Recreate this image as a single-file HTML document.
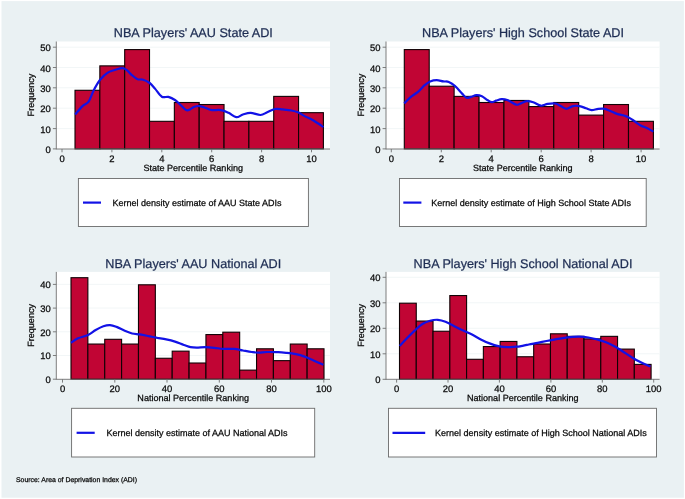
<!DOCTYPE html>
<html><head><meta charset="utf-8"><title>NBA Players ADI</title>
<style>html,body{margin:0;padding:0;background:#fff}svg{display:block;filter:blur(0.3px)}</style></head>
<body>
<svg width="685" height="499" viewBox="0 0 685 499" font-family="'Liberation Sans', Arial, Helvetica, sans-serif" text-rendering="geometricPrecision">
<rect width="685" height="499" fill="#fff"/>
<rect x="1.5" y="1.1" width="682.4" height="496.6" fill="#eaf1f3"/>
<g>
<rect x="56.3" y="41.5" width="273.7" height="107.5" fill="#fff"/>
<line x1="56.3" x2="330.0" y1="128.6" y2="128.6" stroke="#f0f5f6" stroke-width="0.9"/>
<line x1="56.3" x2="330.0" y1="108.2" y2="108.2" stroke="#f0f5f6" stroke-width="0.9"/>
<line x1="56.3" x2="330.0" y1="87.8" y2="87.8" stroke="#f0f5f6" stroke-width="0.9"/>
<line x1="56.3" x2="330.0" y1="67.5" y2="67.5" stroke="#f0f5f6" stroke-width="0.9"/>
<line x1="56.3" x2="330.0" y1="47.2" y2="47.2" stroke="#f0f5f6" stroke-width="0.9"/>
<rect x="75.00" y="90.29" width="24.84" height="58.62" fill="#c10534" stroke="#100205" stroke-width="1.1"/>
<rect x="99.84" y="65.87" width="24.84" height="83.03" fill="#c10534" stroke="#100205" stroke-width="1.1"/>
<rect x="124.68" y="49.59" width="24.84" height="99.31" fill="#c10534" stroke="#100205" stroke-width="1.1"/>
<rect x="149.52" y="121.32" width="24.84" height="27.58" fill="#c10534" stroke="#100205" stroke-width="1.1"/>
<rect x="174.36" y="102.50" width="24.84" height="46.41" fill="#c10534" stroke="#100205" stroke-width="1.1"/>
<rect x="199.20" y="104.53" width="24.84" height="44.37" fill="#c10534" stroke="#100205" stroke-width="1.1"/>
<rect x="224.04" y="121.32" width="24.84" height="27.58" fill="#c10534" stroke="#100205" stroke-width="1.1"/>
<rect x="248.88" y="121.32" width="24.84" height="27.58" fill="#c10534" stroke="#100205" stroke-width="1.1"/>
<rect x="273.72" y="96.39" width="24.84" height="52.51" fill="#c10534" stroke="#100205" stroke-width="1.1"/>
<rect x="298.56" y="112.67" width="24.84" height="36.23" fill="#c10534" stroke="#100205" stroke-width="1.1"/>
<path d="M75.2,114.5 C76.4,113.1 80.3,108.2 82.5,106.1 C84.7,104.0 86.8,104.3 88.6,101.7 C90.4,99.1 91.6,94.4 93.5,90.7 C95.4,87.0 97.7,82.7 100.1,79.7 C102.5,76.7 105.2,74.2 107.8,72.6 C110.4,70.9 113.1,70.5 115.5,69.8 C117.9,69.1 120.3,68.2 122.1,68.2 C123.9,68.2 124.8,68.6 126.5,69.8 C128.2,71.0 130.2,73.7 132.1,75.3 C133.9,76.9 135.8,78.5 137.6,79.2 C139.4,79.9 141.1,79.1 143.1,79.7 C145.1,80.3 147.7,81.5 149.7,83.0 C151.7,84.5 153.2,86.6 155.2,88.9 C157.2,91.2 159.6,95.4 161.8,96.7 C164.0,98.0 166.2,96.4 168.4,96.9 C170.6,97.5 173.0,98.7 175.0,100.0 C177.0,101.3 178.8,103.3 180.6,105.0 C182.4,106.7 184.5,109.4 186.1,110.1 C187.7,110.8 188.6,110.0 190.0,109.4 C191.4,108.9 192.8,107.3 194.4,106.8 C196.1,106.2 197.9,105.8 199.9,106.1 C201.9,106.3 204.5,107.6 206.5,108.3 C208.5,109.0 209.6,109.8 212.0,110.1 C214.4,110.4 218.1,109.6 220.9,110.1 C223.7,110.5 226.0,111.6 228.6,112.8 C231.2,114.0 233.9,116.9 236.3,117.2 C238.7,117.5 240.5,115.2 242.9,114.5 C245.3,113.8 247.7,112.7 250.6,112.8 C253.5,112.9 257.7,115.1 260.5,115.0 C263.3,114.9 264.8,113.3 267.2,112.3 C269.6,111.3 272.3,109.5 274.9,109.0 C277.5,108.5 279.9,109.2 282.6,109.4 C285.4,109.7 288.8,110.0 291.4,110.5 C294.0,111.0 295.8,111.4 298.0,112.3 C300.2,113.2 302.0,114.7 304.6,116.1 C307.2,117.5 310.4,118.7 313.5,120.5 C316.6,122.3 321.8,126.0 323.4,127.1" fill="none" stroke="#1212e6" stroke-width="2.2" stroke-linejoin="round" stroke-linecap="butt"/>
<line x1="56.3" x2="56.3" y1="41.5" y2="149.4" stroke="#707070" stroke-width="0.9"/>
<line x1="56.3" x2="330.0" y1="149.0" y2="149.0" stroke="#707070" stroke-width="0.9"/>
<line x1="52.9" x2="56.3" y1="148.9" y2="148.9" stroke="#707070" stroke-width="0.9"/>
<text x="50.8" y="152.8" font-size="9.45" text-anchor="end" fill="#080808" stroke="#080808" stroke-width="0.25">0</text>
<line x1="52.9" x2="56.3" y1="128.6" y2="128.6" stroke="#707070" stroke-width="0.9"/>
<text x="50.8" y="132.5" font-size="9.45" text-anchor="end" fill="#080808" stroke="#080808" stroke-width="0.25">10</text>
<line x1="52.9" x2="56.3" y1="108.2" y2="108.2" stroke="#707070" stroke-width="0.9"/>
<text x="50.8" y="112.2" font-size="9.45" text-anchor="end" fill="#080808" stroke="#080808" stroke-width="0.25">20</text>
<line x1="52.9" x2="56.3" y1="87.8" y2="87.8" stroke="#707070" stroke-width="0.9"/>
<text x="50.8" y="91.8" font-size="9.45" text-anchor="end" fill="#080808" stroke="#080808" stroke-width="0.25">30</text>
<line x1="52.9" x2="56.3" y1="67.5" y2="67.5" stroke="#707070" stroke-width="0.9"/>
<text x="50.8" y="71.5" font-size="9.45" text-anchor="end" fill="#080808" stroke="#080808" stroke-width="0.25">40</text>
<line x1="52.9" x2="56.3" y1="47.2" y2="47.2" stroke="#707070" stroke-width="0.9"/>
<text x="50.8" y="51.1" font-size="9.45" text-anchor="end" fill="#080808" stroke="#080808" stroke-width="0.25">50</text>
<line x1="62.0" x2="62.0" y1="149.0" y2="152.3" stroke="#707070" stroke-width="0.9"/>
<text x="62.0" y="161.6" font-size="9.45" text-anchor="middle" fill="#080808" stroke="#080808" stroke-width="0.25">0</text>
<line x1="111.9" x2="111.9" y1="149.0" y2="152.3" stroke="#707070" stroke-width="0.9"/>
<text x="111.9" y="161.6" font-size="9.45" text-anchor="middle" fill="#080808" stroke="#080808" stroke-width="0.25">2</text>
<line x1="161.8" x2="161.8" y1="149.0" y2="152.3" stroke="#707070" stroke-width="0.9"/>
<text x="161.8" y="161.6" font-size="9.45" text-anchor="middle" fill="#080808" stroke="#080808" stroke-width="0.25">4</text>
<line x1="211.7" x2="211.7" y1="149.0" y2="152.3" stroke="#707070" stroke-width="0.9"/>
<text x="211.7" y="161.6" font-size="9.45" text-anchor="middle" fill="#080808" stroke="#080808" stroke-width="0.25">6</text>
<line x1="261.6" x2="261.6" y1="149.0" y2="152.3" stroke="#707070" stroke-width="0.9"/>
<text x="261.6" y="161.6" font-size="9.45" text-anchor="middle" fill="#080808" stroke="#080808" stroke-width="0.25">8</text>
<line x1="311.5" x2="311.5" y1="149.0" y2="152.3" stroke="#707070" stroke-width="0.9"/>
<text x="311.5" y="161.6" font-size="9.45" text-anchor="middle" fill="#080808" stroke="#080808" stroke-width="0.25">10</text>
<text x="193.2" y="171.0" font-size="9.05" text-anchor="middle" fill="#080808" stroke="#080808" stroke-width="0.25">State Percentile Ranking</text>
<text x="193.3" y="37.3" font-size="12.65" text-anchor="middle" fill="#1e2d53" stroke="#1e2d53" stroke-width="0.25">NBA Players&#39; AAU State ADI</text>
<text transform="translate(34.3,95.0) rotate(-90)" font-size="9.05" text-anchor="middle" fill="#080808" stroke="#080808" stroke-width="0.25">Frequency</text>
<rect x="78.4" y="178.5" width="230.0" height="48.0" fill="#fff" stroke="#6a6a6a" stroke-width="0.9"/>
<line x1="83.0" x2="101.0" y1="202.6" y2="202.6" stroke="#1212e6" stroke-width="2.2"/>
<text x="112.4" y="206.1" font-size="9.0" fill="#080808" stroke="#080808" stroke-width="0.25">Kernel density estimate of AAU State ADIs</text>
</g>
<g>
<rect x="386.0" y="41.5" width="273.6" height="107.5" fill="#fff"/>
<line x1="386.0" x2="659.6" y1="128.6" y2="128.6" stroke="#f0f5f6" stroke-width="0.9"/>
<line x1="386.0" x2="659.6" y1="108.2" y2="108.2" stroke="#f0f5f6" stroke-width="0.9"/>
<line x1="386.0" x2="659.6" y1="87.8" y2="87.8" stroke="#f0f5f6" stroke-width="0.9"/>
<line x1="386.0" x2="659.6" y1="67.5" y2="67.5" stroke="#f0f5f6" stroke-width="0.9"/>
<line x1="386.0" x2="659.6" y1="47.2" y2="47.2" stroke="#f0f5f6" stroke-width="0.9"/>
<rect x="404.30" y="49.59" width="24.91" height="99.31" fill="#c10534" stroke="#100205" stroke-width="1.1"/>
<rect x="429.21" y="86.22" width="24.91" height="62.69" fill="#c10534" stroke="#100205" stroke-width="1.1"/>
<rect x="454.12" y="96.39" width="24.91" height="52.51" fill="#c10534" stroke="#100205" stroke-width="1.1"/>
<rect x="479.03" y="102.50" width="24.91" height="46.41" fill="#c10534" stroke="#100205" stroke-width="1.1"/>
<rect x="503.94" y="100.46" width="24.91" height="48.44" fill="#c10534" stroke="#100205" stroke-width="1.1"/>
<rect x="528.85" y="106.57" width="24.91" height="42.34" fill="#c10534" stroke="#100205" stroke-width="1.1"/>
<rect x="553.76" y="102.50" width="24.91" height="46.41" fill="#c10534" stroke="#100205" stroke-width="1.1"/>
<rect x="578.67" y="115.11" width="24.91" height="33.79" fill="#c10534" stroke="#100205" stroke-width="1.1"/>
<rect x="603.58" y="104.53" width="24.91" height="44.37" fill="#c10534" stroke="#100205" stroke-width="1.1"/>
<rect x="628.49" y="121.32" width="24.91" height="27.58" fill="#c10534" stroke="#100205" stroke-width="1.1"/>
<path d="M404.3,103.5 C405.3,102.5 408.0,99.2 410.3,97.3 C412.6,95.3 415.6,93.8 418.0,91.8 C420.4,89.8 422.6,86.9 424.6,85.2 C426.6,83.5 428.1,82.2 430.1,81.4 C432.1,80.6 434.5,80.1 436.7,80.1 C438.9,80.1 441.3,81.1 443.3,81.4 C445.3,81.7 446.8,81.1 448.8,81.9 C450.8,82.7 453.2,84.3 455.4,86.3 C457.6,88.2 460.2,91.7 462.1,93.6 C464.0,95.5 465.0,97.2 466.5,97.8 C468.0,98.3 469.2,97.4 470.9,96.9 C472.5,96.5 474.6,95.2 476.4,95.1 C478.2,95.0 480.1,95.4 481.9,96.2 C483.7,97.0 485.8,99.0 487.4,100.0 C489.0,101.0 490.3,102.1 491.8,102.2 C493.3,102.3 494.6,101.1 496.2,100.6 C497.8,100.1 499.8,99.2 501.7,99.1 C503.6,99.0 504.9,99.1 507.3,100.0 C509.7,100.9 514.0,104.0 516.1,104.6 C518.2,105.2 518.2,104.3 520.0,103.7 C521.8,103.1 524.4,101.3 526.6,101.1 C528.8,100.8 530.8,101.4 533.2,102.2 C535.6,103.0 538.5,105.4 540.9,105.7 C543.3,106.0 545.2,104.3 547.6,103.9 C550.0,103.5 553.1,103.1 555.3,103.5 C557.5,103.9 559.0,105.2 560.8,106.1 C562.6,107.0 564.3,108.8 566.3,108.8 C568.3,108.8 570.7,106.5 572.9,106.1 C575.1,105.6 577.3,105.7 579.5,106.1 C581.7,106.5 584.1,107.6 586.1,108.3 C588.1,109.0 589.6,110.0 591.6,110.1 C593.6,110.2 596.1,109.0 598.3,108.8 C600.5,108.6 602.9,108.4 604.9,108.8 C606.9,109.2 608.4,110.2 610.4,111.0 C612.4,111.8 614.4,113.1 617.0,113.9 C619.6,114.8 623.2,115.1 625.8,116.1 C628.4,117.1 630.0,118.3 632.4,119.8 C634.8,121.3 637.8,123.9 640.2,125.3 C642.6,126.7 644.6,127.0 646.8,128.0 C649.0,129.1 652.3,131.0 653.4,131.6" fill="none" stroke="#1212e6" stroke-width="2.2" stroke-linejoin="round" stroke-linecap="butt"/>
<line x1="386.0" x2="386.0" y1="41.5" y2="149.4" stroke="#707070" stroke-width="0.9"/>
<line x1="386.0" x2="659.6" y1="149.0" y2="149.0" stroke="#707070" stroke-width="0.9"/>
<line x1="382.6" x2="386.0" y1="148.9" y2="148.9" stroke="#707070" stroke-width="0.9"/>
<text x="380.5" y="152.8" font-size="9.45" text-anchor="end" fill="#080808" stroke="#080808" stroke-width="0.25">0</text>
<line x1="382.6" x2="386.0" y1="128.6" y2="128.6" stroke="#707070" stroke-width="0.9"/>
<text x="380.5" y="132.5" font-size="9.45" text-anchor="end" fill="#080808" stroke="#080808" stroke-width="0.25">10</text>
<line x1="382.6" x2="386.0" y1="108.2" y2="108.2" stroke="#707070" stroke-width="0.9"/>
<text x="380.5" y="112.2" font-size="9.45" text-anchor="end" fill="#080808" stroke="#080808" stroke-width="0.25">20</text>
<line x1="382.6" x2="386.0" y1="87.8" y2="87.8" stroke="#707070" stroke-width="0.9"/>
<text x="380.5" y="91.8" font-size="9.45" text-anchor="end" fill="#080808" stroke="#080808" stroke-width="0.25">30</text>
<line x1="382.6" x2="386.0" y1="67.5" y2="67.5" stroke="#707070" stroke-width="0.9"/>
<text x="380.5" y="71.5" font-size="9.45" text-anchor="end" fill="#080808" stroke="#080808" stroke-width="0.25">40</text>
<line x1="382.6" x2="386.0" y1="47.2" y2="47.2" stroke="#707070" stroke-width="0.9"/>
<text x="380.5" y="51.1" font-size="9.45" text-anchor="end" fill="#080808" stroke="#080808" stroke-width="0.25">50</text>
<line x1="391.3" x2="391.3" y1="149.0" y2="152.3" stroke="#707070" stroke-width="0.9"/>
<text x="391.3" y="161.6" font-size="9.45" text-anchor="middle" fill="#080808" stroke="#080808" stroke-width="0.25">0</text>
<line x1="441.3" x2="441.3" y1="149.0" y2="152.3" stroke="#707070" stroke-width="0.9"/>
<text x="441.3" y="161.6" font-size="9.45" text-anchor="middle" fill="#080808" stroke="#080808" stroke-width="0.25">2</text>
<line x1="491.2" x2="491.2" y1="149.0" y2="152.3" stroke="#707070" stroke-width="0.9"/>
<text x="491.2" y="161.6" font-size="9.45" text-anchor="middle" fill="#080808" stroke="#080808" stroke-width="0.25">4</text>
<line x1="541.2" x2="541.2" y1="149.0" y2="152.3" stroke="#707070" stroke-width="0.9"/>
<text x="541.2" y="161.6" font-size="9.45" text-anchor="middle" fill="#080808" stroke="#080808" stroke-width="0.25">6</text>
<line x1="591.1" x2="591.1" y1="149.0" y2="152.3" stroke="#707070" stroke-width="0.9"/>
<text x="591.1" y="161.6" font-size="9.45" text-anchor="middle" fill="#080808" stroke="#080808" stroke-width="0.25">8</text>
<line x1="641.1" x2="641.1" y1="149.0" y2="152.3" stroke="#707070" stroke-width="0.9"/>
<text x="641.1" y="161.6" font-size="9.45" text-anchor="middle" fill="#080808" stroke="#080808" stroke-width="0.25">10</text>
<text x="522.8" y="171.0" font-size="9.05" text-anchor="middle" fill="#080808" stroke="#080808" stroke-width="0.25">State Percentile Ranking</text>
<text x="523.0" y="37.3" font-size="12.65" text-anchor="middle" fill="#1e2d53" stroke="#1e2d53" stroke-width="0.25">NBA Players&#39; High School State ADI</text>
<text transform="translate(364.0,95.0) rotate(-90)" font-size="9.05" text-anchor="middle" fill="#080808" stroke="#080808" stroke-width="0.25">Frequency</text>
<rect x="399.5" y="178.5" width="246.7" height="48.0" fill="#fff" stroke="#6a6a6a" stroke-width="0.9"/>
<line x1="403.3" x2="421.4" y1="202.6" y2="202.6" stroke="#1212e6" stroke-width="2.2"/>
<text x="431.3" y="206.1" font-size="9.0" fill="#080808" stroke="#080808" stroke-width="0.25">Kernel density estimate of High School State ADIs</text>
</g>
<g>
<rect x="56.3" y="271.9" width="273.7" height="107.4" fill="#fff"/>
<line x1="56.3" x2="330.0" y1="355.5" y2="355.5" stroke="#f0f5f6" stroke-width="0.9"/>
<line x1="56.3" x2="330.0" y1="331.8" y2="331.8" stroke="#f0f5f6" stroke-width="0.9"/>
<line x1="56.3" x2="330.0" y1="308.1" y2="308.1" stroke="#f0f5f6" stroke-width="0.9"/>
<line x1="56.3" x2="330.0" y1="284.4" y2="284.4" stroke="#f0f5f6" stroke-width="0.9"/>
<rect x="71.00" y="277.69" width="16.87" height="101.51" fill="#c10534" stroke="#100205" stroke-width="1.1"/>
<rect x="87.87" y="344.05" width="16.87" height="35.15" fill="#c10534" stroke="#100205" stroke-width="1.1"/>
<rect x="104.73" y="339.31" width="16.87" height="39.89" fill="#c10534" stroke="#100205" stroke-width="1.1"/>
<rect x="121.60" y="344.05" width="16.87" height="35.15" fill="#c10534" stroke="#100205" stroke-width="1.1"/>
<rect x="138.47" y="284.80" width="16.87" height="94.40" fill="#c10534" stroke="#100205" stroke-width="1.1"/>
<rect x="155.34" y="358.27" width="16.87" height="20.93" fill="#c10534" stroke="#100205" stroke-width="1.1"/>
<rect x="172.20" y="351.16" width="16.87" height="28.04" fill="#c10534" stroke="#100205" stroke-width="1.1"/>
<rect x="189.07" y="363.01" width="16.87" height="16.19" fill="#c10534" stroke="#100205" stroke-width="1.1"/>
<rect x="205.94" y="334.57" width="16.87" height="44.63" fill="#c10534" stroke="#100205" stroke-width="1.1"/>
<rect x="222.80" y="332.20" width="16.87" height="47.00" fill="#c10534" stroke="#100205" stroke-width="1.1"/>
<rect x="239.67" y="370.12" width="16.87" height="9.08" fill="#c10534" stroke="#100205" stroke-width="1.1"/>
<rect x="256.54" y="348.79" width="16.87" height="30.41" fill="#c10534" stroke="#100205" stroke-width="1.1"/>
<rect x="273.40" y="360.64" width="16.87" height="18.56" fill="#c10534" stroke="#100205" stroke-width="1.1"/>
<rect x="290.27" y="344.05" width="16.87" height="35.15" fill="#c10534" stroke="#100205" stroke-width="1.1"/>
<rect x="307.14" y="348.79" width="16.87" height="30.41" fill="#c10534" stroke="#100205" stroke-width="1.1"/>
<path d="M71.0,342.8 C72.2,342.1 75.2,339.6 78.0,338.3 C80.8,337.0 85.0,336.4 88.0,335.0 C91.0,333.6 93.1,331.5 95.7,330.0 C98.3,328.5 101.0,327.0 103.4,326.2 C105.8,325.4 107.8,325.0 110.0,325.1 C112.2,325.2 114.2,326.0 116.6,326.9 C119.0,327.8 121.7,329.5 124.3,330.6 C126.9,331.7 129.5,332.9 132.1,333.5 C134.7,334.1 137.1,334.0 139.8,334.4 C142.6,334.8 145.7,335.5 148.6,336.1 C151.5,336.7 154.5,337.3 157.4,337.9 C160.3,338.4 163.3,338.8 166.2,339.4 C169.1,340.0 172.1,340.7 175.0,341.6 C177.9,342.5 181.3,344.1 183.9,345.0 C186.5,345.9 188.4,346.8 190.5,347.2 C192.6,347.6 194.1,347.6 196.6,347.6 C199.1,347.6 202.4,347.2 205.4,347.2 C208.4,347.2 211.4,347.5 214.3,347.8 C217.2,348.1 219.8,348.7 223.1,348.9 C226.4,349.1 230.8,348.6 234.1,348.9 C237.4,349.2 240.0,350.0 242.9,350.5 C245.8,351.0 249.1,351.6 251.7,352.0 C254.3,352.4 255.7,352.7 258.3,352.7 C260.9,352.7 263.9,352.1 267.2,352.0 C270.5,351.9 274.9,352.1 278.2,352.2 C281.5,352.3 284.1,352.6 287.0,352.9 C289.9,353.2 292.9,353.6 295.8,354.2 C298.7,354.8 301.7,355.6 304.6,356.6 C307.6,357.6 310.4,359.0 313.5,360.4 C316.6,361.8 321.8,364.1 323.4,364.8" fill="none" stroke="#1212e6" stroke-width="2.2" stroke-linejoin="round" stroke-linecap="butt"/>
<line x1="56.3" x2="56.3" y1="271.9" y2="379.7" stroke="#707070" stroke-width="0.9"/>
<line x1="56.3" x2="330.0" y1="379.3" y2="379.3" stroke="#707070" stroke-width="0.9"/>
<line x1="52.9" x2="56.3" y1="379.2" y2="379.2" stroke="#707070" stroke-width="0.9"/>
<text x="50.8" y="383.1" font-size="9.45" text-anchor="end" fill="#080808" stroke="#080808" stroke-width="0.25">0</text>
<line x1="52.9" x2="56.3" y1="355.5" y2="355.5" stroke="#707070" stroke-width="0.9"/>
<text x="50.8" y="359.4" font-size="9.45" text-anchor="end" fill="#080808" stroke="#080808" stroke-width="0.25">10</text>
<line x1="52.9" x2="56.3" y1="331.8" y2="331.8" stroke="#707070" stroke-width="0.9"/>
<text x="50.8" y="335.7" font-size="9.45" text-anchor="end" fill="#080808" stroke="#080808" stroke-width="0.25">20</text>
<line x1="52.9" x2="56.3" y1="308.1" y2="308.1" stroke="#707070" stroke-width="0.9"/>
<text x="50.8" y="312.0" font-size="9.45" text-anchor="end" fill="#080808" stroke="#080808" stroke-width="0.25">30</text>
<line x1="52.9" x2="56.3" y1="284.4" y2="284.4" stroke="#707070" stroke-width="0.9"/>
<text x="50.8" y="288.3" font-size="9.45" text-anchor="end" fill="#080808" stroke="#080808" stroke-width="0.25">40</text>
<line x1="62.5" x2="62.5" y1="379.3" y2="382.6" stroke="#707070" stroke-width="0.9"/>
<text x="62.5" y="391.9" font-size="9.45" text-anchor="middle" fill="#080808" stroke="#080808" stroke-width="0.25">0</text>
<line x1="114.8" x2="114.8" y1="379.3" y2="382.6" stroke="#707070" stroke-width="0.9"/>
<text x="114.8" y="391.9" font-size="9.45" text-anchor="middle" fill="#080808" stroke="#080808" stroke-width="0.25">20</text>
<line x1="167.0" x2="167.0" y1="379.3" y2="382.6" stroke="#707070" stroke-width="0.9"/>
<text x="167.0" y="391.9" font-size="9.45" text-anchor="middle" fill="#080808" stroke="#080808" stroke-width="0.25">40</text>
<line x1="219.3" x2="219.3" y1="379.3" y2="382.6" stroke="#707070" stroke-width="0.9"/>
<text x="219.3" y="391.9" font-size="9.45" text-anchor="middle" fill="#080808" stroke="#080808" stroke-width="0.25">60</text>
<line x1="271.5" x2="271.5" y1="379.3" y2="382.6" stroke="#707070" stroke-width="0.9"/>
<text x="271.5" y="391.9" font-size="9.45" text-anchor="middle" fill="#080808" stroke="#080808" stroke-width="0.25">80</text>
<line x1="323.8" x2="323.8" y1="379.3" y2="382.6" stroke="#707070" stroke-width="0.9"/>
<text x="323.8" y="391.9" font-size="9.45" text-anchor="middle" fill="#080808" stroke="#080808" stroke-width="0.25">100</text>
<text x="193.2" y="401.3" font-size="9.05" text-anchor="middle" fill="#080808" stroke="#080808" stroke-width="0.25">National Percentile Ranking</text>
<text x="193.3" y="267.6" font-size="12.65" text-anchor="middle" fill="#1e2d53" stroke="#1e2d53" stroke-width="0.25">NBA Players&#39; AAU National ADI</text>
<text transform="translate(34.3,325.4) rotate(-90)" font-size="9.05" text-anchor="middle" fill="#080808" stroke="#080808" stroke-width="0.25">Frequency</text>
<rect x="71.6" y="408.3" width="243.1" height="48.7" fill="#fff" stroke="#6a6a6a" stroke-width="0.9"/>
<line x1="76.6" x2="94.7" y1="432.8" y2="432.8" stroke="#1212e6" stroke-width="2.2"/>
<text x="106.4" y="436.2" font-size="9.0" fill="#080808" stroke="#080808" stroke-width="0.25">Kernel density estimate of AAU National ADIs</text>
</g>
<g>
<rect x="386.0" y="271.9" width="273.6" height="107.4" fill="#fff"/>
<line x1="386.0" x2="659.6" y1="353.8" y2="353.8" stroke="#f0f5f6" stroke-width="0.9"/>
<line x1="386.0" x2="659.6" y1="328.3" y2="328.3" stroke="#f0f5f6" stroke-width="0.9"/>
<line x1="386.0" x2="659.6" y1="302.8" y2="302.8" stroke="#f0f5f6" stroke-width="0.9"/>
<line x1="386.0" x2="659.6" y1="277.3" y2="277.3" stroke="#f0f5f6" stroke-width="0.9"/>
<rect x="399.50" y="303.20" width="16.77" height="76.10" fill="#c10534" stroke="#100205" stroke-width="1.1"/>
<rect x="416.27" y="321.05" width="16.77" height="58.25" fill="#c10534" stroke="#100205" stroke-width="1.1"/>
<rect x="433.05" y="331.25" width="16.77" height="48.05" fill="#c10534" stroke="#100205" stroke-width="1.1"/>
<rect x="449.82" y="295.55" width="16.77" height="83.75" fill="#c10534" stroke="#100205" stroke-width="1.1"/>
<rect x="466.59" y="359.30" width="16.77" height="20.00" fill="#c10534" stroke="#100205" stroke-width="1.1"/>
<rect x="483.37" y="346.55" width="16.77" height="32.75" fill="#c10534" stroke="#100205" stroke-width="1.1"/>
<rect x="500.14" y="341.45" width="16.77" height="37.85" fill="#c10534" stroke="#100205" stroke-width="1.1"/>
<rect x="516.91" y="356.75" width="16.77" height="22.55" fill="#c10534" stroke="#100205" stroke-width="1.1"/>
<rect x="533.68" y="344.00" width="16.77" height="35.30" fill="#c10534" stroke="#100205" stroke-width="1.1"/>
<rect x="550.46" y="333.80" width="16.77" height="45.50" fill="#c10534" stroke="#100205" stroke-width="1.1"/>
<rect x="567.23" y="336.35" width="16.77" height="42.95" fill="#c10534" stroke="#100205" stroke-width="1.1"/>
<rect x="584.00" y="338.90" width="16.77" height="40.40" fill="#c10534" stroke="#100205" stroke-width="1.1"/>
<rect x="600.78" y="336.35" width="16.77" height="42.95" fill="#c10534" stroke="#100205" stroke-width="1.1"/>
<rect x="617.55" y="349.10" width="16.77" height="30.20" fill="#c10534" stroke="#100205" stroke-width="1.1"/>
<rect x="634.32" y="364.40" width="16.77" height="14.90" fill="#c10534" stroke="#100205" stroke-width="1.1"/>
<path d="M399.7,346.1 C400.9,344.8 404.4,340.9 406.9,338.3 C409.4,335.7 412.1,333.0 414.7,330.6 C417.3,328.2 419.8,325.6 422.4,324.0 C425.0,322.4 427.5,321.4 430.1,320.7 C432.7,320.0 435.2,319.6 437.8,319.8 C440.4,320.0 442.8,320.7 445.5,321.8 C448.2,322.9 451.4,324.7 454.3,326.2 C457.2,327.7 460.2,329.2 463.2,330.6 C466.1,332.0 469.1,333.1 472.0,334.6 C474.9,336.1 477.9,337.9 480.8,339.4 C483.7,340.9 486.7,342.3 489.6,343.4 C492.5,344.5 495.4,345.5 498.4,346.1 C501.3,346.7 504.4,347.1 507.3,347.2 C510.2,347.3 514.0,346.8 516.1,346.7 C518.2,346.6 517.9,346.7 520.0,346.3 C522.1,345.9 525.9,345.1 528.8,344.5 C531.7,343.9 534.6,343.4 537.6,342.8 C540.6,342.2 543.5,341.6 546.5,341.0 C549.5,340.4 552.4,339.9 555.3,339.4 C558.2,338.9 561.2,338.3 564.1,337.9 C567.0,337.5 570.3,337.0 572.9,336.8 C575.5,336.6 576.9,336.5 579.5,336.6 C582.1,336.7 585.3,337.0 588.3,337.5 C591.2,338.0 594.2,338.6 597.2,339.4 C600.2,340.2 603.1,341.1 606.0,342.3 C608.9,343.5 611.9,344.9 614.8,346.5 C617.7,348.1 620.7,350.1 623.6,352.0 C626.5,353.9 629.5,355.9 632.4,357.7 C635.3,359.5 638.3,361.1 641.3,362.6 C644.3,364.1 649.0,365.9 650.5,366.6" fill="none" stroke="#1212e6" stroke-width="2.2" stroke-linejoin="round" stroke-linecap="butt"/>
<line x1="386.0" x2="386.0" y1="271.9" y2="379.7" stroke="#707070" stroke-width="0.9"/>
<line x1="386.0" x2="659.6" y1="379.3" y2="379.3" stroke="#707070" stroke-width="0.9"/>
<line x1="382.6" x2="386.0" y1="379.3" y2="379.3" stroke="#707070" stroke-width="0.9"/>
<text x="380.5" y="383.2" font-size="9.45" text-anchor="end" fill="#080808" stroke="#080808" stroke-width="0.25">0</text>
<line x1="382.6" x2="386.0" y1="353.8" y2="353.8" stroke="#707070" stroke-width="0.9"/>
<text x="380.5" y="357.8" font-size="9.45" text-anchor="end" fill="#080808" stroke="#080808" stroke-width="0.25">10</text>
<line x1="382.6" x2="386.0" y1="328.3" y2="328.3" stroke="#707070" stroke-width="0.9"/>
<text x="380.5" y="332.2" font-size="9.45" text-anchor="end" fill="#080808" stroke="#080808" stroke-width="0.25">20</text>
<line x1="382.6" x2="386.0" y1="302.8" y2="302.8" stroke="#707070" stroke-width="0.9"/>
<text x="380.5" y="306.8" font-size="9.45" text-anchor="end" fill="#080808" stroke="#080808" stroke-width="0.25">30</text>
<line x1="382.6" x2="386.0" y1="277.3" y2="277.3" stroke="#707070" stroke-width="0.9"/>
<text x="380.5" y="281.2" font-size="9.45" text-anchor="end" fill="#080808" stroke="#080808" stroke-width="0.25">40</text>
<line x1="396.6" x2="396.6" y1="379.3" y2="382.6" stroke="#707070" stroke-width="0.9"/>
<text x="396.6" y="391.9" font-size="9.45" text-anchor="middle" fill="#080808" stroke="#080808" stroke-width="0.25">0</text>
<line x1="448.0" x2="448.0" y1="379.3" y2="382.6" stroke="#707070" stroke-width="0.9"/>
<text x="448.0" y="391.9" font-size="9.45" text-anchor="middle" fill="#080808" stroke="#080808" stroke-width="0.25">20</text>
<line x1="499.4" x2="499.4" y1="379.3" y2="382.6" stroke="#707070" stroke-width="0.9"/>
<text x="499.4" y="391.9" font-size="9.45" text-anchor="middle" fill="#080808" stroke="#080808" stroke-width="0.25">40</text>
<line x1="550.9" x2="550.9" y1="379.3" y2="382.6" stroke="#707070" stroke-width="0.9"/>
<text x="550.9" y="391.9" font-size="9.45" text-anchor="middle" fill="#080808" stroke="#080808" stroke-width="0.25">60</text>
<line x1="602.3" x2="602.3" y1="379.3" y2="382.6" stroke="#707070" stroke-width="0.9"/>
<text x="602.3" y="391.9" font-size="9.45" text-anchor="middle" fill="#080808" stroke="#080808" stroke-width="0.25">80</text>
<line x1="653.7" x2="653.7" y1="379.3" y2="382.6" stroke="#707070" stroke-width="0.9"/>
<text x="653.7" y="391.9" font-size="9.45" text-anchor="middle" fill="#080808" stroke="#080808" stroke-width="0.25">100</text>
<text x="522.8" y="401.3" font-size="9.05" text-anchor="middle" fill="#080808" stroke="#080808" stroke-width="0.25">National Percentile Ranking</text>
<text x="523.0" y="267.6" font-size="12.65" text-anchor="middle" fill="#1e2d53" stroke="#1e2d53" stroke-width="0.25">NBA Players&#39; High School National ADI</text>
<text transform="translate(364.0,325.4) rotate(-90)" font-size="9.05" text-anchor="middle" fill="#080808" stroke="#080808" stroke-width="0.25">Frequency</text>
<rect x="388.5" y="408.3" width="268.0" height="48.7" fill="#fff" stroke="#6a6a6a" stroke-width="0.9"/>
<line x1="392.5" x2="425.2" y1="432.8" y2="432.8" stroke="#1212e6" stroke-width="2.2"/>
<text x="435.1" y="436.2" font-size="9.0" fill="#080808" stroke="#080808" stroke-width="0.25">Kernel density estimate of High School National ADIs</text>
</g>
<text x="16" y="482" font-size="6.9" fill="#080808" stroke="#080808" stroke-width="0.25">Source: Area of Deprivation Index (ADI)</text>
</svg>
</body></html>
